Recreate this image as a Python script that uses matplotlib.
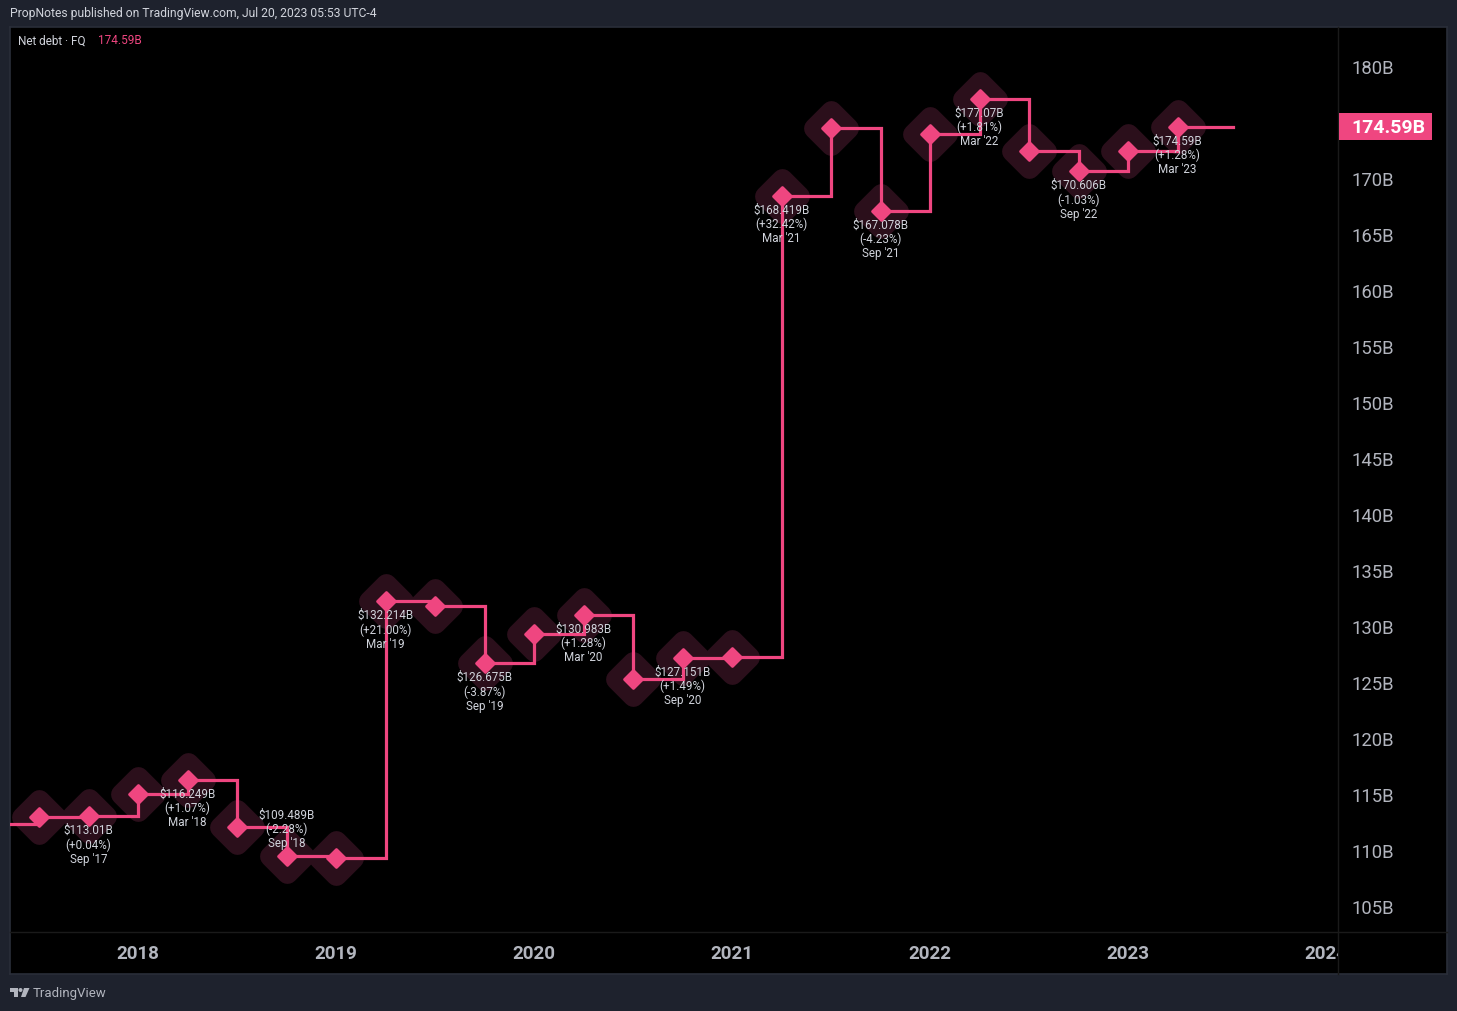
import matplotlib
matplotlib.use("Agg")
import matplotlib.pyplot as plt
from matplotlib.patches import Rectangle, Circle, Polygon
from matplotlib.transforms import blended_transform_factory
from matplotlib.lines import Line2D
from matplotlib.markers import MarkerStyle

plt.rcParams['font.family'] = ['Roboto', 'DejaVu Sans']

# ---------------- data ----------------
quarters = ["Mar '17", "Jun '17", "Sep '17", "Dec '17", "Mar '18", "Jun '18", "Sep '18",
            "Dec '18", "Mar '19", "Jun '19", "Sep '19", "Dec '19", "Mar '20", "Jun '20",
            "Sep '20", "Dec '20", "Mar '21", "Jun '21", "Sep '21", "Dec '21", "Mar '22",
            "Jun '22", "Sep '22", "Dec '22", "Mar '23"]
values = [112.30, 112.97, 113.01, 115.02, 116.249, 112.04, 109.489, 109.27, 132.214,
          131.78, 126.675, 129.33, 130.983, 125.29, 127.151, 127.19, 168.419, 174.46,
          167.078, 173.92, 177.07, 172.38, 170.606, 172.38, 174.59]
labeled_quarters = ["Sep '17", "Mar '18", "Sep '18", "Mar '19", "Sep '19", "Mar '20",
                    "Sep '20", "Mar '21", "Sep '21", "Mar '22", "Sep '22", "Mar '23"]
labeled_changes = [0.04, 1.07, -2.28, 21.00, -3.87, 1.28, 1.49, 32.42, -4.23, 1.81, -1.03, 1.28]
labels_above = ["Sep '18"]
year_ticks = [2018, 2019, 2020, 2021, 2022, 2023, 2024]
price_ticks = [105, 110, 115, 120, 125, 130, 135, 140, 145, 150, 155, 160, 165, 170, 180]
last_value = 174.59
series_name = "Net debt · FQ"
header = "PropNotes published on TradingView.com, Jul 20, 2023 05:53 UTC-4"

# ---------------- styling ----------------
PINK = '#ef4680'
HALO = '#2b0f1b'
BG_OUT = '#1e222d'
TXT = '#d1d4dc'
AX_TXT = '#b2b5be'
BORDER = '#2a2e39'

month_num = {'Mar': 3, 'Jun': 6, 'Sep': 9, 'Dec': 12}
def qx(q):
    m, y = q.split(" '")
    return 2000 + int(y) + month_num[m] / 12.0

xs = [qx(q) for q in quarters]

W, H = 1457, 1012
fig = plt.figure(figsize=(W / 100, H / 100), dpi=100, facecolor=BG_OUT)

def fx(px):
    return px / W
def fy(py):
    return 1 - py / H

# panel background
panel = fig.add_axes([fx(10), fy(975), fx(1447) - fx(10), fy(28) - fy(975)])
panel.set_facecolor('black')
panel.set_xticks([]); panel.set_yticks([])
for s in panel.spines.values():
    s.set_color(BORDER); s.set_linewidth(1.2)
panel.set_zorder(0)

# separators
fig.add_artist(Line2D([fx(1338), fx(1338)], [fy(975), fy(28)], color='#1a1a1a', lw=1))
fig.add_artist(Line2D([fx(10), fx(1447)], [fy(933), fy(933)], color='#1a1a1a', lw=1))

ax = fig.add_axes([fx(10), fy(933), fx(1338) - fx(10), fy(28) - fy(933)])
ax.set_zorder(2)
ax.patch.set_alpha(0)
x0 = 2018 - 128 / 198.0
x1 = 2018 + 1200 / 198.0
ax.set_xlim(x0, x1)
y_top = 180 + (67 - 28) / 11.2
y_bot = 105 - (933 - 907) / 11.2
ax.set_ylim(y_bot, y_top)
for s in ax.spines.values():
    s.set_visible(False)
ax.set_xticks([])
ax.yaxis.tick_right()
ax.set_yticks(price_ticks)
ax.set_yticklabels([f"{p}B" for p in price_ticks])
ax.tick_params(axis='y', length=0, pad=10, labelsize=13.3, labelcolor=AX_TXT)

# step line
ax.plot(xs + [xs[-1] + 0.28], values + [values[-1]], drawstyle='steps-post',
        color=PINK, lw=2.3, zorder=4, solid_joinstyle='miter')

# halos and markers
vis = [(x, v) for x, v in zip(xs, values) if x > x0]
hx = [p[0] for p in vis]; hy = [p[1] for p in vis]
ax.plot(hx, hy, ls='none', marker=MarkerStyle('D', joinstyle='round'), ms=17,
        mfc=HALO, mec=HALO, mew=15, zorder=2)
ax.plot(hx, hy, ls='none', marker=MarkerStyle('D', joinstyle='round'), ms=9.5,
        mfc=PINK, mec=PINK, mew=2, zorder=6)

# labels
for q, c in zip(labeled_quarters, labeled_changes):
    i = quarters.index(q)
    txt = f"${values[i]:g}B\n({c:+.2f}%)\n{q}"
    if q in labels_above:
        off, va = 5, 'bottom'
    else:
        off, va = -5, 'top'
    ax.annotate(txt, (xs[i], values[i]), xytext=(0, off), textcoords='offset points',
                ha='center', va=va, fontsize=8.4, color=TXT, linespacing=1.1,
                zorder=5)

# last value label box
btrans = blended_transform_factory(fig.transFigure, ax.transData)
h_data = 27 * (y_top - y_bot) / 905.0
fig.add_artist(Rectangle((fx(1339), last_value - h_data / 2), fx(1432) - fx(1339), h_data,
                         transform=btrans, facecolor=PINK, edgecolor='none', zorder=5))
fig.text(fx(1388), last_value, f"{last_value}B", transform=btrans, ha='center', va='center',
         fontsize=14, color='white', fontweight='bold', zorder=6)

# time axis
tax = fig.add_axes([fx(10), fy(975), fx(1338) - fx(10), fy(933) - fy(975)])
tax.set_xlim(x0, x1); tax.set_ylim(0, 1)
tax.axis('off')
for yv in year_ticks:
    tax.text(yv, 0.5, str(yv), ha='center', va='center', fontsize=13.5, color=AX_TXT,
             fontweight='bold', clip_on=True)

# legend text
fig.text(fx(18), fy(41), series_name, ha='left', va='center', fontsize=8.5, color=TXT)
fig.text(fx(98), fy(41), f"{last_value}B", ha='left', va='center', fontsize=8.5, color=PINK)

# header
fig.text(fx(10), fy(14), header, ha='left', va='center', fontsize=8.7, color=TXT)

# footer logo
def P(px, py):
    return (px, H - py)
fig.patches.append(Polygon([P(10, 989), P(18, 989), P(18, 998), P(14, 998), P(14, 993), P(10, 993)],
                           closed=True, transform=None, facecolor=AX_TXT, edgecolor='none'))
fig.patches.append(Circle(P(20.5, 991), 2.0, transform=None, facecolor=AX_TXT, edgecolor='none'))
fig.patches.append(Polygon([P(24, 989), P(29.5, 989), P(25.5, 998), P(21, 998)],
                           closed=True, transform=None, facecolor=AX_TXT, edgecolor='none'))
fig.text(fx(33), fy(994), "TradingView", ha='left', va='center', fontsize=9.5, color=AX_TXT)

fig.savefig('out.png', dpi=100, facecolor=BG_OUT)
